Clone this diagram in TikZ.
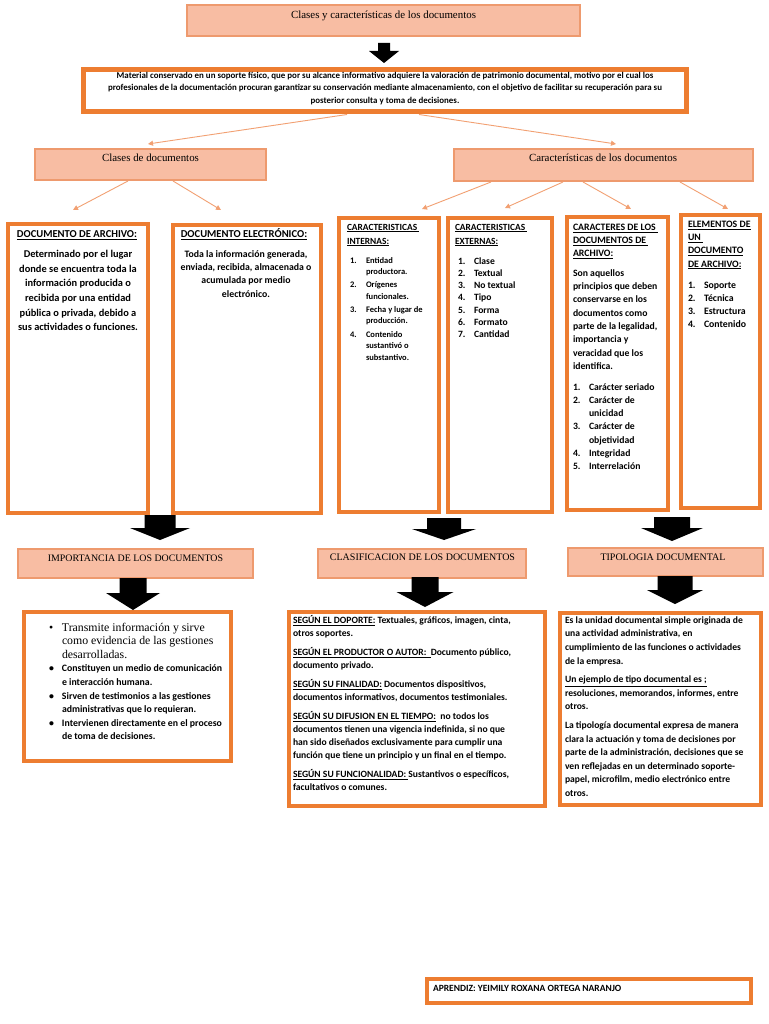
\documentclass[tikz,border=0pt]{standalone}
\usepackage{fontspec}
\setmainfont{Liberation Serif}
\newfontfamily\calib{Carlito}
\usetikzlibrary{arrows.meta}
\definecolor{salmon}{HTML}{F8BDA3}
\definecolor{hedge}{HTML}{EE9A6E}
\definecolor{orng}{HTML}{ED7D31}
\definecolor{lnk}{HTML}{F2A072}
\newcommand\cbf[1]{\calib\bfseries\fontsize{#1}{#1}\selectfont}
\newcommand\tms[1]{\rmfamily\mdseries\fontsize{#1}{#1}\selectfont}
\newcommand\leftlines[2]{\vtop{\baselineskip=#1\relax\lineskiplimit=-\maxdimen\halign{##\hfil\cr#2\crcr}}}
\newcommand\centerlines[2]{\vtop{\baselineskip=#1\relax\lineskiplimit=-\maxdimen\halign{\hfil##\hfil\cr#2\crcr}}}
\newcommand\numlines[3]{\vtop{\baselineskip=#1\relax\lineskiplimit=-\maxdimen\halign{\hbox to #2{##\hfil}&##\hfil\cr#3\crcr}}}
\newcommand\blockarrow[6]{\fill[black] (#1-#3,#2) -- (#1+#3,#2) -- (#1+#3,#4) -- (#1+#5,#4) -- (#1,#6) -- (#1-#5,#4) -- (#1-#3,#4) -- cycle;}
\begin{document}
\begin{tikzpicture}[x=1pt,y=-1pt,
 hbox/.style={draw=hedge, fill=salmon, line width=1.3pt, inner sep=0pt, outer sep=0pt},
 obox/.style={draw=orng, line width=4pt, fill=white, inner sep=0pt, outer sep=0pt},
 link/.style={draw=lnk, line width=0.9pt, -{Triangle[length=5pt,width=5pt]}},
 txt/.style={inner sep=0pt, outer sep=0pt, anchor=base west}]
\useasboundingbox (0,0) rectangle (768,1024);
\fill[white] (0,0) rectangle (768,1024);
% boxes
\node[hbox, minimum width=393pt, minimum height=31pt] (title) at (383.5,20.5) {};
\node[obox, line width=5pt, minimum width=603pt, minimum height=42pt] (defbox) at (385,90.5) {};
\node[hbox, minimum width=231pt, minimum height=31pt] (clases) at (150.5,164.5) {};
\node[hbox, minimum width=299pt, minimum height=32pt] (caract) at (603.5,165) {};
\node[obox, minimum width=140pt, minimum height=289pt] (docarch) at (78,368.5) {};
\node[obox, minimum width=148pt, minimum height=288pt] (docelec) at (247,369) {};
\node[obox, minimum width=100pt, minimum height=294pt] (carint) at (389,365) {};
\node[obox, minimum width=104pt, minimum height=294pt] (carext) at (500,365) {};
\node[obox, minimum width=101pt, minimum height=293pt] (caracteres) at (617.5,363.5) {};
\node[obox, minimum width=79pt, minimum height=293pt] (elementos) at (720.5,361.5) {};
\node[hbox, minimum width=235pt, minimum height=29pt] (imphead) at (135.5,563.5) {};
\node[hbox, minimum width=208pt, minimum height=29pt] (clahead) at (422,563.5) {};
\node[hbox, minimum width=195pt, minimum height=28pt] (tiphead) at (665.5,562) {};
\node[obox, minimum width=207pt, minimum height=149pt] (impbox) at (127.5,686.5) {};
\node[obox, minimum width=256pt, minimum height=194pt] (clabox) at (417,709) {};
\node[obox, minimum width=201pt, minimum height=192pt] (tipbox) at (660.5,709) {};
\node[obox, minimum width=324pt, minimum height=24pt] (aprbox) at (589,991) {};
% connectors
\draw[link] ([xshift=-38pt,yshift=-3pt]defbox.south) -- ([xshift=-2.5pt,yshift=5pt]clases.north);
\draw[link] ([xshift=34pt,yshift=-3pt]defbox.south) -- ([xshift=12.5pt,yshift=5pt]caract.north);
\draw[link] ([xshift=-22.5pt,yshift=-1pt]clases.south) -- ([xshift=-5pt,yshift=14pt]docarch.north);
\draw[link] ([xshift=22.5pt,yshift=-1pt]clases.south) -- ([xshift=-26pt,yshift=15pt]docelec.north);
\draw[link] ([xshift=-112.5pt,yshift=-1pt]caract.south) -- ([xshift=33pt,yshift=9pt]carint.north);
\draw[link] ([xshift=-40.5pt,yshift=-1pt]caract.south) -- ([xshift=5pt,yshift=10pt]carext.north);
\draw[link] ([xshift=-20.5pt,yshift=-1pt]caract.south) -- ([xshift=13.5pt,yshift=8pt]caracteres.north);
\draw[link] ([xshift=76.5pt,yshift=-1pt]caract.south) -- ([xshift=7.5pt,yshift=6pt]elementos.north);
% block arrows
\blockarrow{384}{43}{6}{51}{15}{63}
\blockarrow{160}{515}{15.5}{528}{30}{540}
\blockarrow{444}{518}{17}{529}{32}{540}
\blockarrow{672}{517}{18}{528}{31}{541}
\blockarrow{133}{578}{13.5}{593}{27}{610}
\blockarrow{425}{577}{13.5}{592}{28.5}{607}
\blockarrow{675}{576}{17.5}{590}{28}{604}
% texts
\node[txt, anchor=base, font=\tms{10.9}] (ttitle) at (383.5,18.6) {Clases y características de los documentos};
\node[txt, anchor=base, font=\cbf{8.9}] (tdef) at (385,78.7) {\centerlines{12.3pt}{Material conservado en un soporte físico, que por su alcance informativo adquiere la valoración de patrimonio documental, motivo por el cual los\cr
profesionales de la documentación procuran garantizar su conservación mediante almacenamiento, con el objetivo de facilitar su recuperación para su\cr
posterior consulta y toma de decisiones.\cr}};
\node[txt, anchor=base, font=\tms{10.9}] (tclases) at (150.5,161.6) {Clases de documentos};
\node[txt, anchor=base, font=\tms{10.9}] (tcaract) at (603,161.6) {Características de los documentos};
% documento de archivo
\node[txt, anchor=base, font=\cbf{10.6}] (tda1) at (77,237.5) {\underline{DOCUMENTO DE ARCHIVO:}};
\node[txt, anchor=base, font=\cbf{10.4}] (tda2) at (78,257.7) {\centerlines{14.6pt}{Determinado por el lugar\cr donde se encuentra toda la\cr información producida o\cr recibida por una entidad\cr pública o privada, debido a\cr sus actividades o funciones.\cr}};
% documento electronico
\node[txt, anchor=base, font=\cbf{10.6}] (tde1) at (244,237.5) {\underline{DOCUMENTO ELECTRÓNICO:}};
\node[txt, anchor=base, font=\cbf{9.8}] (tde2) at (246,257.2) {\centerlines{13.3pt}{Toda la información generada,\cr enviada, recibida, almacenada o\cr acumulada por medio\cr electrónico.\cr}};
% caracteristicas internas
\node[txt, font=\cbf{9.4}] (tci1) at (347,230.2) {\leftlines{14pt}{\underline{CARACTERISTICAS\ }\cr\underline{INTERNAS:}\cr}};
\node[txt, font=\cbf{8.5}] (tci2) at (350,263) {\numlines{11.5pt}{16pt}{1.&Entidad\cr&productora.\cr\noalign{\vskip1.7pt}2.&Orígenes\cr&funcionales.\cr\noalign{\vskip1.7pt}3.&Fecha y lugar de\cr&producción.\cr\noalign{\vskip1.7pt}4.&Contenido\cr&sustantivó o\cr&substantivo.\cr}};
% caracteristicas externas
\node[txt, font=\cbf{9.4}] (tce1) at (455,230.2) {\leftlines{14pt}{\underline{CARACTERISTICAS\ }\cr\underline{EXTERNAS:}\cr}};
\node[txt, font=\cbf{9.6}] (tce2) at (458,264.3) {\numlines{12.2pt}{16pt}{1.&Clase\cr 2.&Textual\cr 3.&No textual\cr 4.&Tipo\cr 5.&Forma\cr 6.&Formato\cr 7.&Cantidad\cr}};
% caracteres
\node[txt, font=\cbf{9.8}] (tca1) at (573,230.3) {\leftlines{13pt}{\underline{CARACTERES DE LOS\ }\cr\underline{DOCUMENTOS DE\ }\cr\underline{ARCHIVO:}\cr}};
\node[txt, font=\cbf{9.7}] (tca2) at (573,276.3) {\leftlines{13.3pt}{Son aquellos\cr principios que deben\cr conservarse en los\cr documentos como\cr parte de la legalidad,\cr importancia y\cr veracidad que los\cr identifica.\cr}};
\node[txt, font=\cbf{9.7}] (tca3) at (573,390.3) {\numlines{13.2pt}{16pt}{1.&Carácter seriado\cr 2.&Carácter de\cr&unicidad\cr 3.&Carácter de\cr&objetividad\cr 4.&Integridad\cr 5.&Interrelación\cr}};
% elementos
\node[txt, font=\cbf{9.8}] (tel1) at (688,227.3) {\leftlines{13.3pt}{\underline{ELEMENTOS DE}\cr\underline{UN\ }\cr\underline{DOCUMENTO}\cr\underline{DE ARCHIVO:}\cr}};
\node[txt, font=\cbf{9.8}] (tel2) at (688,288.3) {\numlines{13pt}{16pt}{1.&Soporte\cr 2.&Técnica\cr 3.&Estructura\cr 4.&Contenido\cr}};
% headings
\node[txt, anchor=base, font=\tms{9.9}] (timp) at (135.5,561.3) {IMPORTANCIA DE LOS DOCUMENTOS};
\node[txt, anchor=base, font=\tms{10}] (tcla) at (422.5,560.3) {CLASIFICACION DE LOS DOCUMENTOS};
\node[txt, anchor=base, font=\tms{10}] (ttip) at (663,560.3) {TIPOLOGIA DOCUMENTAL};
% importancia body
\node[txt, font=\cbf{9.8}] (timpb) at (49,631) {\numlines{13.6pt}{13pt}{{\tms{11.8}•}&{\tms{11.8}Transmite información y sirve}\cr&{\tms{11.8}como evidencia de las gestiones}\cr&{\tms{11.8}desarrolladas.}\cr •&Constituyen un medio de comunicación\cr&e interacción humana.\cr •&Sirven de testimonios a las gestiones\cr&administrativas que lo requieran.\cr •&Intervienen directamente en el proceso\cr&de toma de decisiones.\cr}};
% clasificacion body
\node[txt, font=\cbf{9.6}] (tclab) at (293,623.3) {\leftlines{13pt}{\underline{SEGÚN EL DOPORTE:} Textuales, gráficos, imagen, cinta,\cr
otros soportes.\cr\noalign{\vskip6pt}
\underline{SEGÚN EL PRODUCTOR O AUTOR:\ \ }Documento público,\cr
documento privado.\cr\noalign{\vskip6pt}
\underline{SEGÚN SU FINALIDAD:} Documentos dispositivos,\cr
documentos informativos, documentos testimoniales.\cr\noalign{\vskip6pt}
\underline{SEGÚN SU DIFUSION EN EL TIEMPO:}\ \ no todos los\cr
documentos tienen una vigencia indefinida, si no que\cr
han sido diseñados exclusivamente para cumplir una\cr
función que tiene un principio y un final en el tiempo.\cr\noalign{\vskip6pt}
\underline{SEGÚN SU FUNCIONALIDAD:\ }Sustantivos o específicos,\cr
facultativos o comunes.\cr}};
% tipologia body
\node[txt, font=\cbf{9.6}] (ttipb) at (565,623.3) {\leftlines{13.6pt}{Es la unidad documental simple originada de\cr
una actividad administrativa, en\cr
cumplimiento de las funciones o actividades\cr
de la empresa.\cr\noalign{\vskip5pt}
\underline{Un ejemplo de tipo documental es ;}\cr
resoluciones, memorandos, informes, entre\cr
otros.\cr\noalign{\vskip5pt}
La tipología documental expresa de manera\cr
clara la actuación y toma de decisiones por\cr
parte de la administración, decisiones que se\cr
ven reflejadas en un determinado soporte-\cr
papel, microfilm, medio electrónico entre\cr
otros.\cr}};
% aprendiz
\node[txt, font=\cbf{9.5}] (tapr) at (433,991.2) {APRENDIZ: YEIMILY ROXANA ORTEGA NARANJO};
\end{tikzpicture}
\end{document}
